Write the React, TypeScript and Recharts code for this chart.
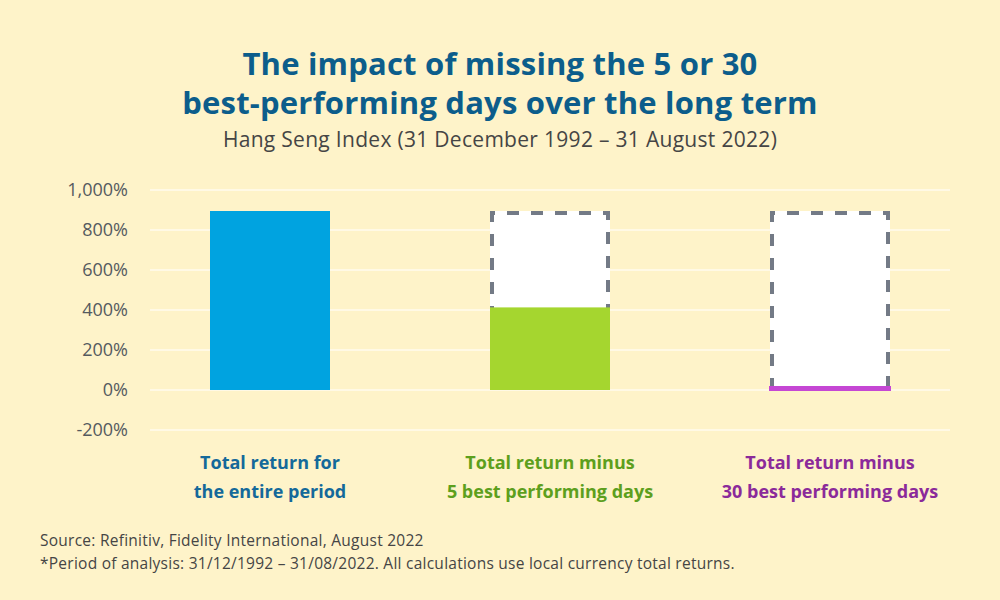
import { BarChart, Bar, XAxis, YAxis, CartesianGrid } from 'recharts'

const categories = ['total', 'minus5', 'minus30']
const labelLines = [
  ['Total return for', 'the entire period'],
  ['Total return minus', '5 best performing days'],
  ['Total return minus', '30 best performing days'],
]
const returns = [895, 413, 15]
const fullReturn = [null, 895, 895]
const yTicks = [-200, 0, 200, 400, 600, 800, 1000]

const barColors = ['#00a3e0', '#a5d62f', '#c547d4']
const labelColors = ['#14699a', '#5d9f1d', '#8b2a9a']

const data = categories.map((c, i) => ({
  name: c,
  value: returns[i],
  outline: fullReturn[i],
}))

const FONT = '"Open Sans", "Noto Sans", sans-serif'

function CategoryTick(props: any) {
  const { x, y, payload } = props
  const i = categories.indexOf(payload.value)
  const lines = labelLines[i] || []
  return (
    <text x={x} y={y} textAnchor="middle" fontFamily={FONT} fontWeight={700} fontSize={18} fill={labelColors[i]}>
      {lines.map((l, k) => (
        <tspan key={k} x={x} y={y + 31 + k * 29}>{l}</tspan>
      ))}
    </text>
  )
}

// dashed box showing the full return, open at the bottom
function OutlineShape(props: any) {
  const { x, y, width, height } = props
  if (!height) return null
  const l = x + 2
  const r = x + width - 2
  const t = y + 2
  const b = y + height
  return (
    <g>
      <rect x={x} y={y} width={width} height={height} fill="#ffffff" />
      <path
        d={`M${l},${b} L${l},${t} L${r},${t} L${r},${b}`}
        fill="none"
        stroke="#737a86"
        strokeWidth={4}
        strokeDasharray="12 12"
      />
    </g>
  )
}

function ValueShape(props: any) {
  const { x, y, width, height, index } = props
  const color = barColors[index]
  const h = Math.abs(height)
  const top = height < 0 ? y + height : y
  return (
    <rect
      x={x}
      y={top}
      width={width}
      height={h}
      fill={color}
      stroke={index === 2 ? color : 'none'}
      strokeWidth={index === 2 ? 2 : 0}
    />
  )
}

export default function App() {
  return (
    <div style={{ position: 'fixed', left: 0, top: 0, width: 1000, height: 600, background: '#fef3c9', fontFamily: FONT }}>
      <div style={{ position: 'absolute', top: 44, width: 1000, textAlign: 'center', color: '#0c5d8b', fontSize: 31, fontWeight: 700, lineHeight: '39px', letterSpacing: 0.2 }}>
        The impact of missing the 5 or 30<br />best-performing days over the long term
      </div>
      <div style={{ position: 'absolute', top: 125, width: 1000, textAlign: 'center', color: '#454545', fontSize: 21, letterSpacing: 0.3 }}>
        Hang Seng Index (31 December 1992 – 31 August 2022)
      </div>

      <div style={{ position: 'absolute', left: 0, top: 0 }}>
        <BarChart
          width={1000}
          height={600}
          data={data}
          margin={{ top: 190, right: 50, bottom: 110, left: 50 }}
          barSize={120}
        >
          <CartesianGrid vertical={false} stroke="#fffbee" strokeWidth={1.5} />
          <XAxis
            dataKey="name"
            xAxisId="main"
            axisLine={false}
            tickLine={false}
            height={60}
            padding={{ left: -20, right: -20 }}
            tick={<CategoryTick />}
            interval={0}
          />
          <XAxis dataKey="name" xAxisId="outline" hide padding={{ left: -20, right: -20 }} />
          <YAxis
            width={100}
            domain={[-200, 1000]}
            ticks={yTicks}
            interval={0}
            axisLine={false}
            tickLine={false}
            tickSize={0}
            tickMargin={22}
            tickFormatter={(v: number) => v.toLocaleString('en-US') + '%'}
            tick={{ fill: '#555a5f', fontSize: 18, fontFamily: FONT }}
          />
          <Bar dataKey="outline" xAxisId="outline" shape={<OutlineShape />} isAnimationActive={false} />
          <Bar dataKey="value" xAxisId="main" shape={<ValueShape />} isAnimationActive={false} />
        </BarChart>
      </div>

      <div style={{ position: 'absolute', left: 40, top: 529, color: '#454545', fontSize: 15.5, lineHeight: '23px', letterSpacing: 0.25 }}>
        Source: Refinitiv, Fidelity International, August 2022<br />
        *Period of analysis: 31/12/1992 – 31/08/2022. All calculations use local currency total returns.
      </div>
    </div>
  )
}
